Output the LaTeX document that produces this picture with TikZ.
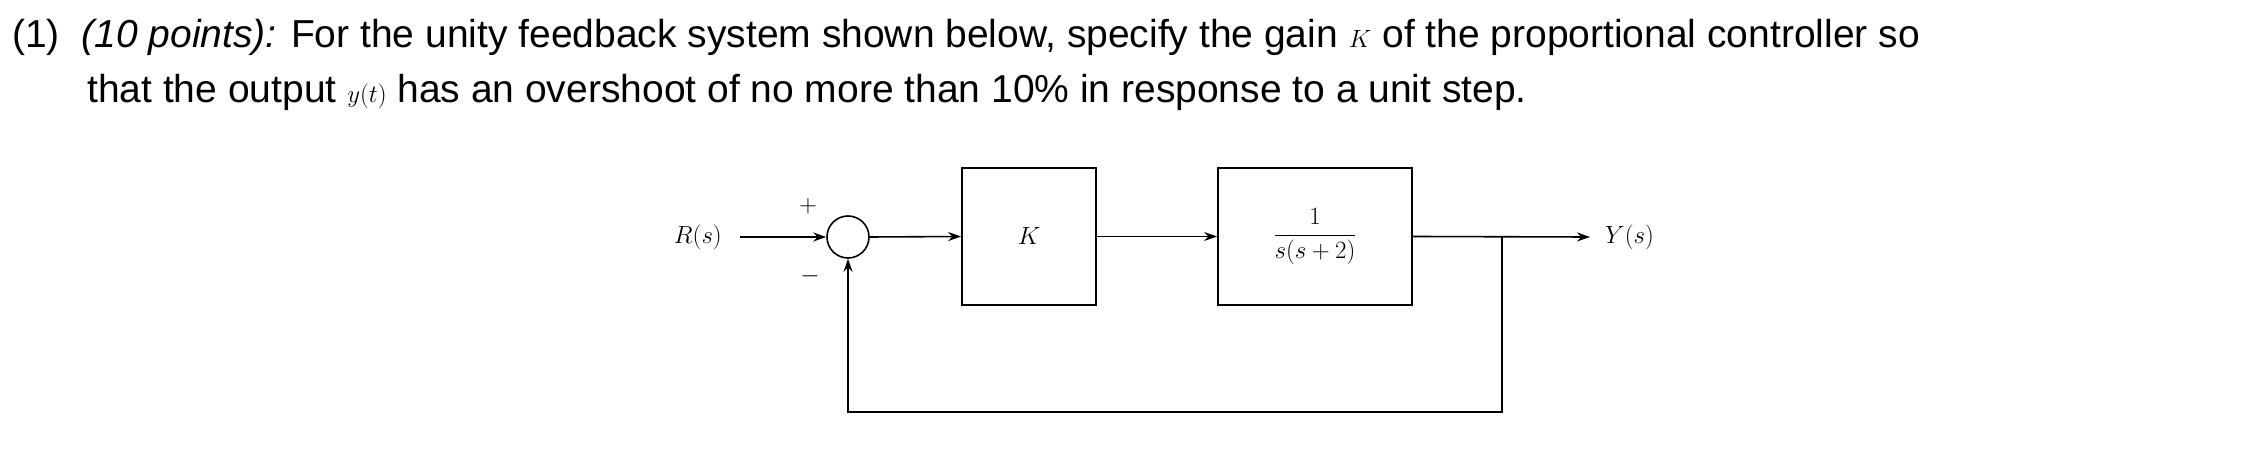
\documentclass[tikz,border=0pt]{standalone}
\usepackage{fontspec}
\setmainfont{Liberation Sans}
\usepackage{amsmath}
\usetikzlibrary{arrows.meta}
\begin{document}
\begin{tikzpicture}[x=1pt,y=-1pt,
  blk/.style={draw,line width=1.8pt,minimum width=134pt,minimum height=137pt,inner sep=0pt},
  sig/.style={line width=1.6pt},
  arr/.style={sig,-{Stealth[length=13pt,width=9pt]}},
  mth/.style={font=\fontsize{43}{48}\selectfont},
  ttl/.style={anchor=base west,inner sep=0pt,font=\fontsize{39}{44}\selectfont}]
\useasboundingbox (0,0) rectangle (2260,454);
\node[ttl] (t1) at (12,48) {(1)\ \ \textit{(10 points):} For the unity feedback system shown below, specify the gain $K$ of the proportional controller so};
\node[ttl] (t2) at (87,103) {that the output $y(t)$ has an overshoot of no more than 10\% in response to a unit step.};
\node[mth,anchor=east,inner sep=0pt] (R) at (722,237) {$R(s)$};
\node[draw,circle,line width=1.6pt,minimum size=42pt,inner sep=0pt] (sum) at (848,237) {};
\node[blk,mth] (K) at (1029,236.5) {$K$};
\node[blk,mth,minimum width=194pt] (G) at (1315,236.5) {$\dfrac{1}{s(s+2)}$};
\node[mth,anchor=west,inner sep=0pt] (Y) at (1605,237) {$Y(s)$};
\coordinate (st) at (740,237);
\coordinate (br) at (1502,237);
\coordinate (yend) at (1590,237);
\coordinate (bot) at (1502,412);
\node[mth,font=\fontsize{36}{40}\selectfont] (plus) at (808,206) {$+$};
\node[mth,font=\fontsize{36}{40}\selectfont] (minus) at (810,276) {$-$};
\draw[arr] (st) -- (sum.west);
\draw[arr] (sum.east) -- (K.west);
\draw[arr] (K.east) -- (G.west);
\draw[arr] (G.east) -- (yend);
\draw[arr] (br) -- (bot) -| (sum.south);
\end{tikzpicture}
\end{document}
